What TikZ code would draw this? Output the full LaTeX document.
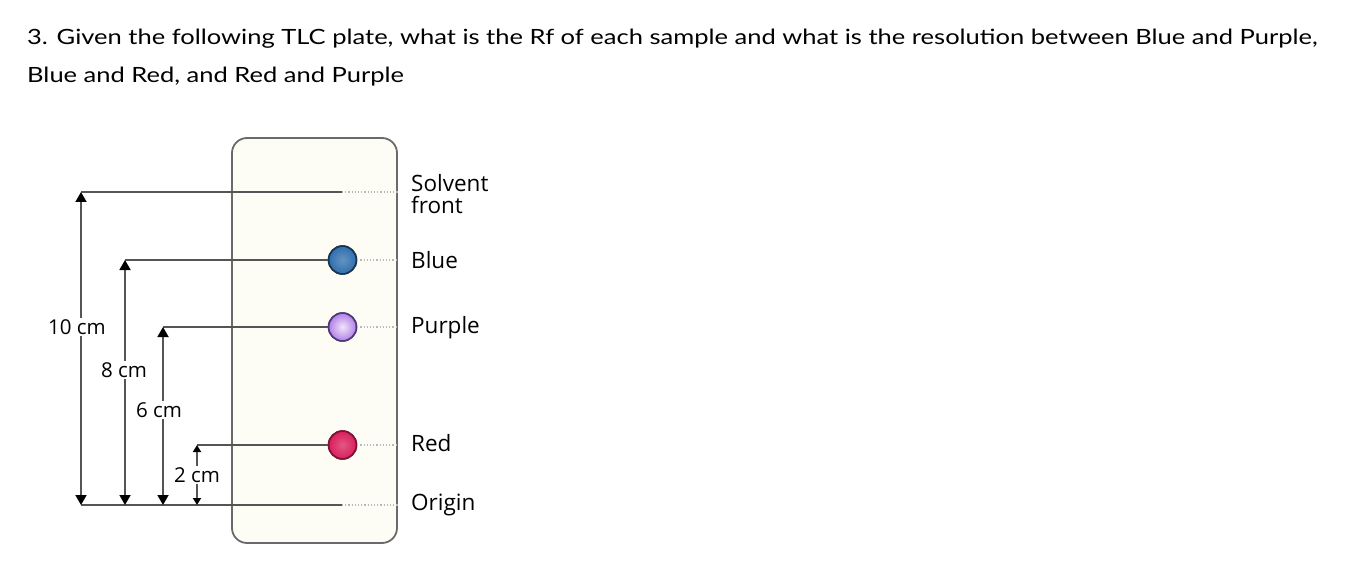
\documentclass[tikz,border=0pt]{standalone}
\usepackage{fontspec}
\setmainfont{Lato}[FakeStretch=1.215]
\newfontfamily\tagfont{Open Sans}
\usetikzlibrary{arrows.meta}

\definecolor{plateback}{HTML}{FEFDF5}
\definecolor{plateedge}{HTML}{6A6A6A}
\definecolor{lineclr}{HTML}{555555}
\definecolor{blueSpot}{HTML}{2F6FAE}
\definecolor{blueEdge}{HTML}{1A3550}
\definecolor{purpleSpot}{HTML}{B27FE8}
\definecolor{purpleEdge}{HTML}{4E3A78}
\definecolor{redSpot}{HTML}{D91F5C}
\definecolor{redEdge}{HTML}{7E1236}

\begin{document}
\begin{tikzpicture}[x=1pt, y=-1pt,
	guide/.style={draw=lineclr, line width=1.8pt},
	dimline/.style={guide, {Triangle[length=10pt,width=11pt,color=black]}-{Triangle[length=10pt,width=11pt,color=black]}},
	shortdim/.style={guide, {Triangle[length=7pt,width=8pt,color=black]}-{Triangle[length=7pt,width=8pt,color=black]}},
	faint/.style={draw=gray!55, dotted, line width=1.2pt},
	spot/.style={circle, line width=1.5pt, minimum size=28pt, inner sep=0pt},
	tag/.style={anchor=west, inner sep=0pt, font=\tagfont\fontsize{22.5}{23}\selectfont},
	dimtag/.style={fill=white, inner sep=1pt, font=\tagfont\fontsize{20.5}{21}\selectfont}]
	\useasboundingbox (0,0) rectangle (1368,580);

	% Question text
	\node[anchor=base west, inner sep=0pt, font=\fontsize{21}{25}\selectfont] (Q1) at (27,45)
		{3. Given the following TLC plate, what is the Rf of each sample and what is the resolution between Blue and Purple,};
	\node[anchor=base west, inner sep=0pt, font=\fontsize{21}{25}\selectfont] (Q2) at (27,83)
		{Blue and Red, and Red and Purple};

	% The plate
	\node[draw=plateedge, fill=plateback, line width=1.8pt, rounded corners=15pt,
		minimum width=165pt, minimum height=405pt, inner sep=0pt] (P) at (314.5,340.5) {};

	% Spots
	\node[spot, draw=blueEdge, inner color=blueSpot!75!white, outer color=blueSpot] (B) at (342.5,260) {};
	\node[spot, draw=purpleEdge, inner color=purpleSpot!20, outer color=purpleSpot] (U) at (342.5,327) {};
	\node[spot, draw=redEdge, inner color=redSpot!75!white, outer color=redSpot] (R) at (342.5,445) {};
	\draw[draw=blueEdge, line width=1.5pt] (B.center) circle (14pt);
	\draw[draw=purpleEdge, line width=1.5pt] (U.center) circle (14pt);
	\draw[draw=redEdge, line width=1.5pt] (R.center) circle (14pt);

	% Reference points on the left
	\coordinate (sf) at (81,192);
	\coordinate (sf2) at (342,192);
	\coordinate (b) at (125,260);
	\coordinate (u) at (163,327);
	\coordinate (r) at (197,445);
	\coordinate (o) at (81,505);
	\coordinate (o2) at (342,505);

	% Horizontal lines
	\draw[guide] (sf) -- (sf2);
	\draw[guide] (b) -- (B);
	\draw[guide] (u) -- (U);
	\draw[guide] (r) -- (R);
	\draw[guide] (o) -- (o2);

	% Dotted leaders to the labels
	\draw[faint] (sf2) -- (sf2 -| P.east);
	\draw[faint] (B.east) -- (B.east -| P.east);
	\draw[faint] (U.east) -- (U.east -| P.east);
	\draw[faint] (R.east) -- (R.east -| P.east);
	\draw[faint] (o2) -- (o2 -| P.east);

	% Distances
	\draw[dimline] (sf) -- (o);
	\draw[dimline] (b) -- (b |- o);
	\draw[dimline] (u) -- (u |- o);
	\draw[shortdim] (r) -- (r |- o);

	\node[dimtag] (d10) at (77,327) {10 cm};
	\node[dimtag] (d8) at (124,370) {8 cm};
	\node[dimtag] (d6) at (159,410) {6 cm};
	\node[dimtag] (d2) at (197,475) {2 cm};

	% Labels
	\node[tag, align=left, font=\tagfont\fontsize{22.5}{22}\selectfont] (SF) at (411,194) {Solvent\\front};
	\node[tag] (BL) at (411,260) {Blue};
	\node[tag] (PL) at (411,328) {Purple};
	\node[tag] (RL) at (411,443) {Red};
	\node[tag] (OL) at (411,505) {Origin};
\end{tikzpicture}
\end{document}
